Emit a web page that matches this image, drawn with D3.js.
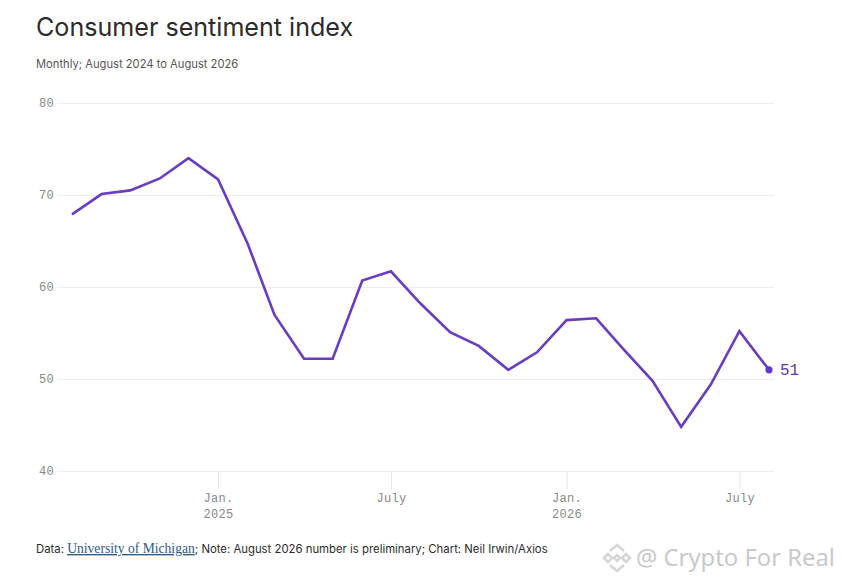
<!DOCTYPE html>
<html>
<head>
<meta charset="utf-8">
<script src="https://cdn.jsdelivr.net/npm/d3@7"></script>
<style>
  html, body { margin: 0; padding: 0; background: #fff; }
  svg { display: block; }
</style>
</head>
<body>
<div id="chart"></div>
<script>
// data
const months = ["2024-08","2024-09","2024-10","2024-11","2024-12","2025-01","2025-02","2025-03","2025-04",
  "2025-05","2025-06","2025-07","2025-08","2025-09","2025-10","2025-11","2025-12","2026-01","2026-02",
  "2026-03","2026-04","2026-05","2026-06","2026-07","2026-08"];
const sentiment = [67.9,70.1,70.5,71.8,74.0,71.7,64.7,57.0,52.2,52.2,60.7,61.7,58.2,55.1,53.6,51.0,52.9,56.4,56.6,53.3,49.8,44.8,49.4,55.2,51.0];
const yTicks = [40,50,60,70,80];
const xTickMonths = ["2025-01","2025-07","2026-01","2026-07"];
const xTickLabels = [["Jan.","2025"],["July"],["Jan.","2026"],["July"]];

const width = 842, height = 583;
const purple = "#6a3cc4";
const sansFont = "Inter, 'Noto Sans', sans-serif";
const monoFont = "'Liberation Mono', 'DejaVu Sans Mono', monospace";

const parseMonth = d3.utcParse("%Y-%m");
const dates = months.map(parseMonth);

const svg = d3.select("#chart").append("svg")
  .attr("width", width)
  .attr("height", height);

const x = d3.scaleUtc().domain(d3.extent(dates)).range([72, 769]);
const y = d3.scaleLinear().domain([40, 80]).range([471, 103]);

// title and subtitle
svg.append("text")
  .attr("x", 36).attr("y", 36)
  .style("font-family", sansFont)
  .style("font-size", "25.1px")
  .style("fill", "#2b2b2b")
  .text("Consumer sentiment index");

svg.append("text")
  .attr("x", 36).attr("y", 68)
  .style("font-family", sansFont)
  .style("font-size", "11.2px")
  .style("fill", "#555")
  .text("Monthly; August 2024 to August 2026");

// y axis, gridlines come from the tick lines
svg.append("g")
  .attr("transform", "translate(57,0)")
  .call(d3.axisLeft(y).tickValues(yTicks).tickSize(-717).tickPadding(3))
  .call(g => g.select(".domain").remove())
  .call(g => g.selectAll(".tick line").attr("stroke", "#ededed"))
  .call(g => g.selectAll(".tick text")
    .style("font-family", monoFont)
    .style("font-size", "12px")
    .style("letter-spacing", "0.3px")
    .style("fill", "#888"));

// x axis
const xAxis = svg.append("g")
  .attr("transform", "translate(0,471)")
  .call(d3.axisBottom(x).tickValues(xTickMonths.map(parseMonth)).tickSize(18).tickFormat(""))
  .call(g => g.select(".domain").remove())
  .call(g => g.selectAll(".tick line").attr("stroke", "#e6e6e6"));

xAxis.selectAll(".tick text").remove();
xAxis.selectAll(".tick").append("text")
  .attr("text-anchor", "middle")
  .style("font-family", monoFont)
  .style("font-size", "12px")
  .style("letter-spacing", "0.3px")
  .style("fill", "#888")
  .selectAll("tspan")
  .data((d, i) => xTickLabels[i])
  .join("tspan")
    .attr("x", 0)
    .attr("y", (d, i) => 31 + i * 16)
    .text(d => d);

// line
const line = d3.line()
  .x((d, i) => x(dates[i]))
  .y(d => y(d));

svg.append("path")
  .datum(sentiment)
  .attr("d", line)
  .attr("fill", "none")
  .attr("stroke", purple)
  .attr("stroke-width", 2.6)
  .attr("stroke-linejoin", "miter");

// last point and its label
const lastDate = dates[dates.length - 1];
const lastValue = sentiment[sentiment.length - 1];

svg.append("circle")
  .attr("cx", x(lastDate))
  .attr("cy", y(lastValue))
  .attr("r", 3.6)
  .attr("fill", "#5f38d0");

svg.append("text")
  .attr("x", x(lastDate) + 11)
  .attr("y", y(lastValue))
  .attr("dy", "0.35em")
  .style("font-family", monoFont)
  .style("font-size", "16px")
  .style("fill", "#5a3aa8")
  .text(d3.format("d")(lastValue));

// footer
const footer = svg.append("text")
  .attr("x", 36).attr("y", 553)
  .style("font-family", sansFont)
  .style("font-size", "11.35px")
  .style("fill", "#2b2b2b");
footer.append("tspan").text("Data: ");
footer.append("tspan")
  .style("font-family", "'Liberation Serif', serif")
  .style("font-size", "13.6px")
  .style("fill", "#2c5a85")
  .style("text-decoration", "underline")
  .text("University of Michigan");
footer.append("tspan").text("; Note: August 2026 number is preliminary; Chart: Neil Irwin/Axios");

// watermark
const mark = svg.append("g")
  .attr("transform", "translate(617,558)")
  .attr("fill", "none")
  .attr("stroke", "#d6d6d6")
  .attr("stroke-width", 2.5);
mark.append("path").attr("d", "M-7,-7 L0,-13 L7,-7 M-7,7 L0,13 L7,7 M-13,0 L-9,-4 L-5,0 L-9,4 Z M13,0 L9,-4 L5,0 L9,4 Z M-3,0 L0,-3 L3,0 L0,3 Z");

svg.append("text")
  .attr("x", 636).attr("y", 566)
  .style("font-family", "'Noto Sans', sans-serif")
  .style("font-size", "23.8px")
  .style("fill", "#c9c9c9")
  .text("@ Crypto For Real");
</script>
</body>
</html>
